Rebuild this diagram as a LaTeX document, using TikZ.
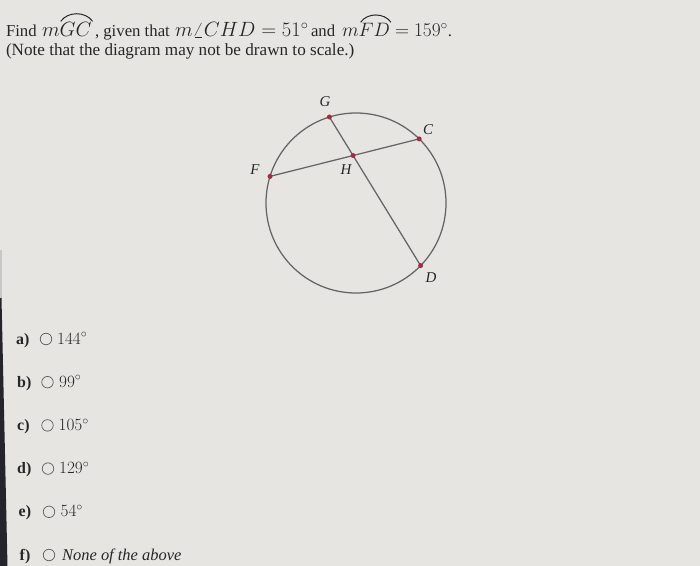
\documentclass[tikz,border=0pt]{standalone}
\usepackage[no-math]{fontspec}
\setmainfont{Liberation Serif}
\definecolor{bg}{RGB}{231,229,225}
\definecolor{ink}{RGB}{38,38,42}
\definecolor{geo}{RGB}{100,100,104}
\definecolor{pt}{RGB}{160,45,65}
\definecolor{edge}{RGB}{35,36,44}
\begin{document}
\begin{tikzpicture}[x=1bp,y=-1bp,
  hd/.style={anchor=base west,inner sep=0pt,outer sep=0pt,text=ink,font=\fontsize{16.8}{20}\selectfont},
  hm/.style={anchor=base west,inner sep=0pt,outer sep=0pt,text=ink,font=\fontsize{20.74}{22}\selectfont},
  hms/.style={hm,scale=0.94},
  lbl/.style={text=ink,inner sep=0pt,font=\fontsize{15}{17}\selectfont\itshape},
  dot/.style={circle,fill=pt,inner sep=0pt,minimum size=5bp},
  opt/.style={anchor=base west,inner sep=0pt,text=ink,font=\fontsize{16.5}{19}\selectfont},
  optl/.style={anchor=base west,inner sep=0pt,text=ink,font=\fontsize{16}{19}\selectfont\bfseries},
  radio/.style={circle,draw=ink!75,line width=0.7bp,inner sep=0pt,minimum size=11.5bp},
  chord/.style={draw=geo,line width=1.25bp},
  arcmark/.style={draw=ink,line width=1bp}]
\fill[bg] (0,0) rectangle (700,566);
\useasboundingbox (0,0) rectangle (700,566);
% photo edge
\fill[black!22] (0,250) -- (2,250) -- (2,300) -- (0,300) -- cycle;
\fill[edge] (0,298) -- (1.5,298) -- (7.5,566) -- (0,566) -- cycle;

% header
\node[hd] (h1) at (6,37) {Find};
\node[hm] (h2) at (42,37) {$m$};
\node[hm] (gc) at (h2.base east) {$GC$};
\node[hd] (h3) at (95,37) {, given that};
\node[hm] (h4) at (175,37) {$m\angle CHD = 51^\circ$};
\node[hd] (h5) at (311,37) {and};
\node[hms] (h6) at (342,37) {$m$};
\node[hms] (fd) at (h6.base east) {$FD$};
\node[hms] (h7) at (395,37) {$=$};
\node[hms] (h8) at (414,37) {$159^\circ$};
\node[hd] (h9) at (h8.base east) {.};
\draw[arcmark] ([xshift=1bp,yshift=1.5bp]gc.north west) to[bend left=55] ([xshift=1bp,yshift=1.5bp]gc.north east);
\draw[arcmark] ([xshift=2bp,yshift=1.5bp]fd.north west) to[bend left=55] ([xshift=1bp,yshift=1.5bp]fd.north east);
\node[hd,font=\fontsize{17.2}{20}\selectfont] (n2) at (6,56) {(Note that the diagram may not be drawn to scale.)};

% diagram
\coordinate (O) at (356,203);
\coordinate (pG) at (329.4,117.0);
\coordinate (pC) at (419.2,138.9);
\coordinate (pF) at (270.0,176.4);
\coordinate (pD) at (420.6,265.6);
\coordinate (pH) at (intersection of pG--pD and pF--pC);
\draw[chord] (O) circle[radius=90bp];
\draw[chord] (pG) -- (pD);
\draw[chord] (pF) -- (pC);
\node[dot] (G) at (pG) {};
\node[dot] (C) at (pC) {};
\node[dot] (F) at (pF) {};
\node[dot] (D) at (pD) {};
\node[dot] (H) at (pH) {};
\node[lbl] (lG) at (325,101.5) {G};
\node[lbl] (lC) at (428,130) {C};
\node[lbl] (lF) at (255,170) {F};
\node[lbl] (lH) at (346,170) {H};
\node[lbl] (lD) at (431,278) {D};

% options
\node[optl] (oa) at (16,344) {a)};
\node[radio] (ra) at (46,339) {};
\node[opt] (va) at (57,344) {$144^\circ$};
\node[optl] (ob) at (17,387.2) {b)};
\node[radio] (rb) at (47.5,382.2) {};
\node[opt] (vb) at (59,387.2) {$99^\circ$};
\node[optl] (oc) at (17,430.4) {c)};
\node[radio] (rc) at (47.5,425.4) {};
\node[opt] (vc) at (58.5,430.4) {$105^\circ$};
\node[optl] (od) at (17,473.6) {d)};
\node[radio] (rd) at (48,468.6) {};
\node[opt] (vd) at (59,473.6) {$129^\circ$};
\node[optl] (oe) at (18.5,516.8) {e)};
\node[radio] (re) at (49,511.8) {};
\node[opt] (ve) at (60.5,516.8) {$54^\circ$};
\node[optl] (of) at (19.5,560) {f)};
\node[radio] (rf) at (49,555) {};
\node[opt] (vf) at (62,560) {\itshape None of the above};
\end{tikzpicture}
\end{document}
